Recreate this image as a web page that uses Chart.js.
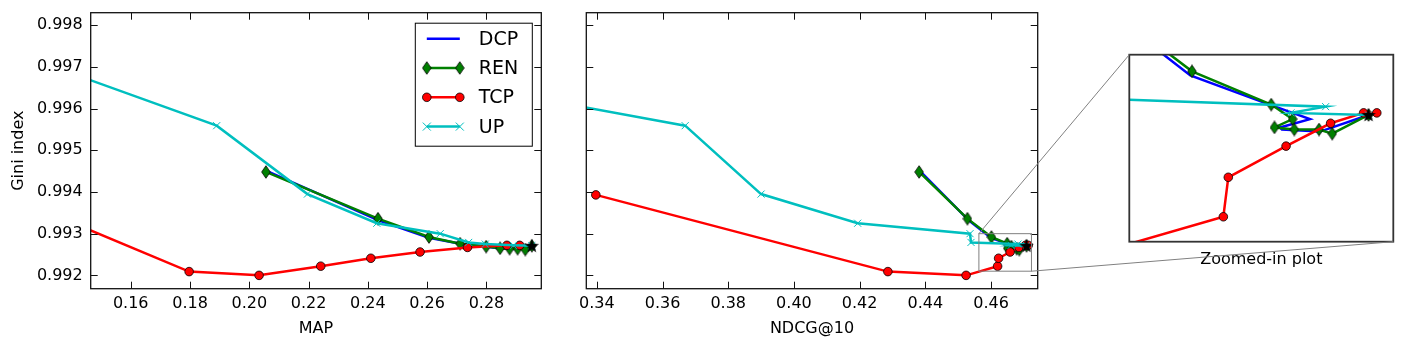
<!DOCTYPE html>
<html lang="en">
<head>
    <meta charset="UTF-8">
    <title>Gini index vs MAP / NDCG@10</title>
    <script src="https://cdn.jsdelivr.net/npm/chart.js"></script>
    <style>
        body { margin: 0; background: #fff; }
        .wrap { position: relative; width: 1405px; height: 352px; }
        .wrap canvas { position: absolute; left: 0; top: 0; }
    </style>
</head>
<body>
    <div class="wrap">
        <canvas id="mapChart" width="1405" height="352"></canvas>
        <canvas id="ndcgChart" width="1405" height="352"></canvas>
        <canvas id="zoomChart" width="1405" height="352"></canvas>
        <canvas id="overlay" width="1405" height="352"></canvas>
    </div>

    <script>
        // Data (Gini is shared by both panels)
        const dcpGini = [0.99450, 0.99332, 0.99290, 0.99276, 0.99269, 0.99265, 0.99264, 0.99263, 0.99271];
        const dcpMap  = [0.2060, 0.2436, 0.2606, 0.2712, 0.2795, 0.2840, 0.2870, 0.2905, 0.2953];
        const dcpNdcg = [0.4384, 0.4532, 0.4600, 0.4648, 0.46725, 0.46543, 0.46555, 0.46786, 0.4708];

        const renGini = [0.99448, 0.99336, 0.99292, 0.99276, 0.99269, 0.99265, 0.99264, 0.99264, 0.99262, 0.99271];
        const renMap  = [0.2056, 0.2434, 0.2606, 0.2711, 0.2799, 0.2846, 0.2878, 0.2905, 0.2931, 0.2953];
        const renNdcg = [0.4381, 0.4528, 0.4601, 0.4649, 0.4662, 0.4651, 0.4663, 0.4678, 0.4686, 0.4708];

        const tcpGini = [0.99393, 0.99209, 0.99200, 0.99222, 0.99241, 0.99256, 0.99267, 0.99272, 0.99272];
        const tcpMap  = [0.118, 0.1797, 0.2033, 0.2241, 0.2410, 0.2576, 0.2736, 0.2869, 0.2912];
        const tcpNdcg = [0.3397, 0.4286, 0.4524, 0.4620, 0.4623, 0.4658, 0.4685, 0.4705, 0.4713];

        const upGini = [0.9975, 0.99559, 0.99395, 0.99325, 0.99300, 0.99279, 0.99275, 0.99272, 0.99271];
        const upMap  = [0.1145, 0.189, 0.2196, 0.2430, 0.2644, 0.2740, 0.2796, 0.2891, 0.2953];
        const upNdcg = [0.2340, 0.3669, 0.3900, 0.4194, 0.4536, 0.4539, 0.4682, 0.4661, 0.4708];

        // baseline (black star)
        const starGini = [0.99271];
        const starMap  = [0.2953];
        const starNdcg = [0.4708];

        const legendNames = ['DCP', 'REN', 'TCP', 'UP'];

        // axis ranges + ticks
        const giniRange = [0.99168, 0.9983];
        const giniTicks = [0.992, 0.993, 0.994, 0.995, 0.996, 0.997, 0.998];
        const mapRange  = [0.1465, 0.2985];
        const mapTicks  = [0.16, 0.18, 0.20, 0.22, 0.24, 0.26, 0.28];
        const ndcgRange = [0.3368, 0.4742];
        const ndcgTicks = [0.34, 0.36, 0.38, 0.40, 0.42, 0.44, 0.46];
        const zoomX = [0.4563, 0.4723];
        const zoomY = [0.9921, 0.9930];

        const FONT = "'DejaVu Sans', sans-serif";
        const BLUE = '#0000ff', GREEN = '#008000', RED = '#ff0000', CYAN = '#00bfbf';

        // Marker images
        function makeDiamond() {
            const c = document.createElement('canvas');
            c.width = 10; c.height = 14;
            const g = c.getContext('2d');
            g.beginPath();
            g.moveTo(5, 0.7); g.lineTo(9.3, 7); g.lineTo(5, 13.3); g.lineTo(0.7, 7);
            g.closePath();
            g.fillStyle = GREEN; g.fill();
            g.lineWidth = 0.8; g.strokeStyle = '#000'; g.stroke();
            return c;
        }
        function makeStar() {
            const c = document.createElement('canvas');
            c.width = 16; c.height = 16;
            const g = c.getContext('2d');
            g.beginPath();
            for (let i = 0; i < 10; i++) {
                const r = i % 2 === 0 ? 7.5 : 3;
                const a = -Math.PI / 2 + i * Math.PI / 5;
                const px = 8 + r * Math.cos(a), py = 8.5 + r * Math.sin(a);
                i === 0 ? g.moveTo(px, py) : g.lineTo(px, py);
            }
            g.closePath();
            g.fillStyle = '#000'; g.fill();
            return c;
        }
        const diamondImg = makeDiamond();
        const starImg = makeStar();

        const pts = (xs, ys) => xs.map((x, i) => ({ x: x, y: ys[i] }));

        function buildDatasets(dcpX, renX, tcpX, upX, starX) {
            return [
                { label: 'star', data: pts(starX, starGini), showLine: false, pointStyle: starImg, order: 0 },
                { label: 'UP', data: pts(upX, upGini), borderColor: CYAN, borderWidth: 2.5,
                  pointStyle: 'crossRot', pointRadius: 5, pointBorderColor: CYAN, pointBorderWidth: 1, order: 1 },
                { label: 'TCP', data: pts(tcpX, tcpGini), borderColor: RED, borderWidth: 2.5,
                  pointStyle: 'circle', pointRadius: 4.3, pointBackgroundColor: RED,
                  pointBorderColor: '#000', pointBorderWidth: 0.8, order: 2 },
                { label: 'REN', data: pts(renX, renGini), borderColor: GREEN, borderWidth: 2.5,
                  pointStyle: diamondImg, order: 3 },
                { label: 'DCP', data: pts(dcpX, dcpGini), borderColor: BLUE, borderWidth: 2.5,
                  pointRadius: 0, order: 4 }
            ];
        }

        // frame + inward ticks on all four sides
        function framePlugin(xTicks, yTicks, color, width, tickLen) {
            return {
                id: 'frame',
                afterDatasetsDraw(chart) {
                    const { ctx, chartArea: a, scales } = chart;
                    ctx.save();
                    ctx.strokeStyle = color;
                    ctx.lineWidth = width;
                    ctx.strokeRect(a.left, a.top, a.right - a.left, a.bottom - a.top);
                    ctx.lineWidth = 1;
                    ctx.beginPath();
                    xTicks.forEach(v => {
                        const px = Math.round(scales.x.getPixelForValue(v)) + 0.5;
                        ctx.moveTo(px, a.bottom); ctx.lineTo(px, a.bottom - tickLen);
                        ctx.moveTo(px, a.top); ctx.lineTo(px, a.top + tickLen);
                    });
                    yTicks.forEach(v => {
                        const py = Math.round(scales.y.getPixelForValue(v)) + 0.5;
                        ctx.moveTo(a.left, py); ctx.lineTo(a.left + tickLen, py);
                        ctx.moveTo(a.right, py); ctx.lineTo(a.right - tickLen, py);
                    });
                    ctx.stroke();
                    ctx.restore();
                }
            };
        }

        // matplotlib style legend (line with two markers)
        const legendPlugin = {
            id: 'mplLegend',
            afterDraw(chart) {
                const { ctx, chartArea: a } = chart;
                const right = a.right - 9.5, top = a.top + 10, w = 117, h = 123;
                const left = right - w;
                ctx.save();
                ctx.fillStyle = '#fff';
                ctx.fillRect(left, top, w, h);
                ctx.strokeStyle = '#000'; ctx.lineWidth = 1;
                ctx.strokeRect(left + 0.5, top + 0.5, w, h);
                const colors = [BLUE, GREEN, RED, CYAN];
                legendNames.forEach((name, i) => {
                    const cy = top + 16 + i * 29.3;
                    const x1 = left + 12, x2 = left + 45;
                    ctx.strokeStyle = colors[i]; ctx.lineWidth = 2.5;
                    ctx.beginPath(); ctx.moveTo(x1, cy); ctx.lineTo(x2, cy); ctx.stroke();
                    [x1, x2].forEach(mx => {
                        if (i === 1) ctx.drawImage(diamondImg, mx - 5, cy - 7);
                        if (i === 2) {
                            ctx.beginPath(); ctx.arc(mx, cy, 4.3, 0, Math.PI * 2);
                            ctx.fillStyle = RED; ctx.fill();
                            ctx.lineWidth = 0.8; ctx.strokeStyle = '#000'; ctx.stroke();
                        }
                        if (i === 3) {
                            ctx.lineWidth = 1; ctx.strokeStyle = CYAN;
                            ctx.beginPath();
                            ctx.moveTo(mx - 4, cy - 4); ctx.lineTo(mx + 4, cy + 4);
                            ctx.moveTo(mx - 4, cy + 4); ctx.lineTo(mx + 4, cy - 4);
                            ctx.stroke();
                        }
                    });
                    ctx.fillStyle = '#000';
                    ctx.font = '19px ' + FONT;
                    ctx.textBaseline = 'middle';
                    ctx.fillText(name, left + 64, cy + 1);
                });
                ctx.restore();
            }
        };

        function setTicks(values) {
            return scale => { scale.ticks = values.map(v => ({ value: v })); };
        }

        const tickFont = { family: FONT, size: 16 };

        function makeChart(id, opts) {
            return new Chart(document.getElementById(id), {
                type: 'scatter',
                data: { datasets: opts.datasets },
                options: {
                    responsive: false,
                    animation: false,
                    devicePixelRatio: 1,
                    showLine: true,
                    layout: { padding: opts.padding },
                    elements: { line: { tension: 0 } },
                    plugins: { legend: { display: false }, tooltip: { enabled: false } },
                    scales: {
                        x: {
                            type: 'linear', min: opts.xRange[0], max: opts.xRange[1],
                            afterBuildTicks: setTicks(opts.xTicks),
                            afterFit: s => { s.height = opts.xHeight; s.paddingLeft = 0; s.paddingRight = 0; },
                            grid: { display: false, drawTicks: false },
                            border: { display: false },
                            ticks: {
                                display: opts.xLabels, color: '#000', font: tickFont, padding: 6,
                                autoSkip: false, maxRotation: 0,
                                callback: v => v.toFixed(2)
                            },
                            title: { display: true, text: opts.xTitle, color: '#000', font: tickFont,
                                     padding: { top: 2, bottom: 0 } }
                        },
                        y: {
                            type: 'linear', min: opts.yRange[0], max: opts.yRange[1],
                            display: opts.yShow,
                            afterBuildTicks: setTicks(giniTicks),
                            afterFit: s => { s.width = opts.yWidth; s.paddingTop = 0; s.paddingBottom = 0; },
                            grid: { display: false, drawTicks: false },
                            border: { display: false },
                            ticks: { color: '#000', font: tickFont, padding: 8, autoSkip: false,
                                     callback: v => v.toFixed(3) },
                            title: { display: true, text: 'Gini index', color: '#000', font: tickFont,
                                     padding: { top: 9, bottom: 0 } }
                        }
                    }
                },
                plugins: opts.plugins
            });
        }

        const mapChart = makeChart('mapChart', {
            datasets: buildDatasets(dcpMap, renMap, tcpMap, upMap, starMap),
            padding: { left: 0, top: 12.7, right: 1405 - 541.3, bottom: 14 },
            xRange: mapRange, xTicks: mapTicks, xLabels: true, xTitle: 'MAP', xHeight: 352 - 14 - 288.7,
            yRange: giniRange, yShow: true, yWidth: 90.7,
            plugins: [framePlugin(mapTicks, giniTicks, '#111', 1.3, 7), legendPlugin]
        });

        const ndcgChart = makeChart('ndcgChart', {
            datasets: buildDatasets(dcpNdcg, renNdcg, tcpNdcg, upNdcg, starNdcg),
            padding: { left: 586.3, top: 12.7, right: 1405 - 1037.7, bottom: 14 },
            xRange: ndcgRange, xTicks: ndcgTicks, xLabels: true, xTitle: 'NDCG@10', xHeight: 352 - 14 - 288.7,
            yRange: giniRange, yShow: false, yWidth: 0,
            plugins: [framePlugin(ndcgTicks, giniTicks, '#111', 1.3, 7)]
        });

        const zoomChart = makeChart('zoomChart', {
            datasets: buildDatasets(dcpNdcg, renNdcg, tcpNdcg, upNdcg, starNdcg),
            padding: { left: 1129.3, top: 54.7, right: 1405 - 1393.3, bottom: 83 },
            xRange: zoomX, xTicks: [], xLabels: false, xTitle: 'Zoomed-in plot', xHeight: 352 - 83 - 241.7,
            yRange: zoomY, yShow: false, yWidth: 0,
            plugins: [framePlugin([], [], '#333', 1.8, 0)]
        });

        // Inset marker rectangle and connector lines
        const ov = document.getElementById('overlay').getContext('2d');
        const sx = ndcgChart.scales.x, sy = ndcgChart.scales.y;
        const rx1 = sx.getPixelForValue(zoomX[0]), rx2 = sx.getPixelForValue(zoomX[1]);
        const ry1 = sy.getPixelForValue(zoomY[1]), ry2 = sy.getPixelForValue(zoomY[0]);
        const za = zoomChart.chartArea;
        ov.strokeStyle = '#808080';
        ov.lineWidth = 1;
        ov.strokeRect(rx1, ry1, rx2 - rx1, ry2 - ry1);
        ov.beginPath();
        ov.moveTo(rx1, ry1); ov.lineTo(za.left, za.top);
        ov.moveTo(rx2, ry2); ov.lineTo(za.right, za.bottom);
        ov.stroke();
    </script>
</body>
</html>
